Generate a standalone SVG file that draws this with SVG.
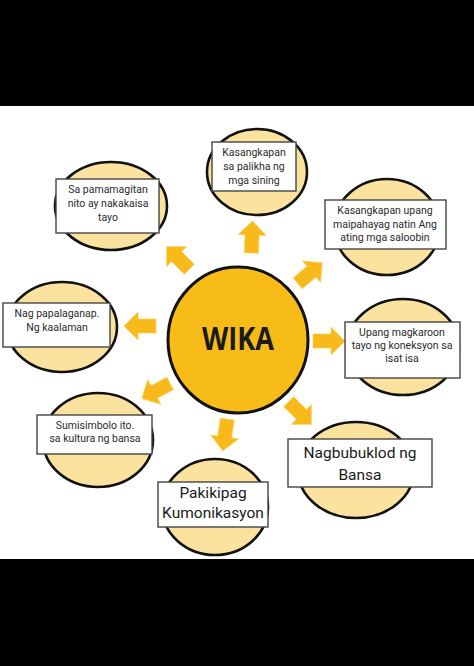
<svg xmlns="http://www.w3.org/2000/svg" width="474" height="666" viewBox="0 0 474 666">
<defs>
<style>
.bar{fill:#000}
.out{fill:#FBE39F;stroke:#111;stroke-width:2.6}
.box{fill:#fff;stroke:#444;stroke-width:1.4}
.t{font-family:Roboto,"Liberation Sans",sans-serif;font-size:10.5px;fill:#2a2a2a;text-anchor:middle}
.tb{font-family:Roboto,"Liberation Sans",sans-serif;font-size:15.5px;fill:#1a1a1a;text-anchor:middle}
.arr{fill:#F8BA1A;stroke:#FBD060;stroke-width:0.8}
</style>
<path id="ar" d="M-16,-7 H2 V-14 L16,0 L2,14 V7 H-16 Z"/>
</defs>
<rect x="0" y="0" width="474" height="666" fill="#fff"/>
<rect class="bar" x="0" y="0" width="474" height="106"/>
<rect class="bar" x="0" y="559" width="474" height="107"/>

<g id="connectors">
<use href="#ar" class="arr" transform="translate(252,237) rotate(-88)"/>
<use href="#ar" class="arr" transform="translate(310,273) rotate(-40)"/>
<use href="#ar" class="arr" transform="translate(329,341)"/>
<use href="#ar" class="arr" transform="translate(300,413) rotate(45)"/>
<use href="#ar" class="arr" transform="translate(225,435) rotate(98)"/>
<use href="#ar" class="arr" transform="translate(156,391) rotate(152)"/>
<use href="#ar" class="arr" transform="translate(140,326) rotate(180)"/>
<use href="#ar" class="arr" transform="translate(178,258) rotate(-135)"/>
</g>

<g id="wika">
<ellipse cx="238" cy="340" rx="70" ry="73" fill="#F8BC18" stroke="#111" stroke-width="3"/>
<text x="238" y="350" font-family="'Open Sans',Roboto,'Liberation Sans',sans-serif" font-size="32" font-weight="bold" fill="#1a1a1a" text-anchor="middle" textLength="72" lengthAdjust="spacingAndGlyphs">WIKA</text>
</g>

<g id="n-top">
<ellipse class="out" cx="257" cy="172" rx="50" ry="43"/>
<rect class="box" x="212" y="142" width="84" height="49"/>
<text class="t" x="254" y="156">Kasangkapan</text>
<text class="t" x="254" y="170">sa palikha ng</text>
<text class="t" x="254" y="184">mga sining</text>
</g>

<g id="n-topleft">
<ellipse class="out" cx="111" cy="206" rx="56" ry="44"/>
<rect class="box" x="56" y="179" width="103" height="54"/>
<text class="t" x="108" y="193">Sa pamamagitan</text>
<text class="t" x="108" y="207">nito ay nakakaisa</text>
<text class="t" x="108" y="221">tayo</text>
</g>

<g id="n-topright">
<ellipse class="out" cx="387" cy="227" rx="53" ry="48"/>
<rect class="box" x="325" y="200" width="121" height="49"/>
<text class="t" x="385" y="214">Kasangkapan upang</text>
<text class="t" x="385" y="228">maipahayag natin Ang</text>
<text class="t" x="385" y="241">ating mga saloobin</text>
</g>

<g id="n-left">
<ellipse class="out" cx="62" cy="327" rx="55" ry="45"/>
<rect class="box" x="3" y="303" width="107" height="44"/>
<text class="t" x="57" y="317">Nag papalaganap.</text>
<text class="t" x="57" y="331">Ng kaalaman</text>
</g>

<g id="n-right">
<ellipse class="out" cx="403" cy="347" rx="56" ry="48"/>
<rect class="box" x="345" y="322" width="115" height="56"/>
<text class="t" x="402" y="336">Upang magkaroon</text>
<text class="t" x="402" y="349">tayo ng koneksyon sa</text>
<text class="t" x="402" y="362">isat isa</text>
</g>

<g id="n-lowerleft">
<ellipse class="out" cx="98" cy="440" rx="55" ry="47"/>
<rect class="box" x="37" y="415" width="115" height="39"/>
<text class="t" x="95" y="429">Sumisimbolo ito.</text>
<text class="t" x="95" y="442">sa kultura ng bansa</text>
</g>

<g id="n-lowerright">
<ellipse class="out" cx="356" cy="470" rx="58" ry="48"/>
<rect class="box" x="288" y="439" width="144" height="48"/>
<text class="tb" x="360" y="458">Nagbubuklod ng</text>
<text class="tb" x="360" y="480">Bansa</text>
</g>

<g id="n-bottom">
<ellipse class="out" cx="215" cy="507" rx="53" ry="48"/>
<rect class="box" x="158" y="482" width="110" height="45"/>
<text class="tb" x="213" y="498">Pakikipag</text>
<text class="tb" x="213" y="518">Kumonikasyon</text>
</g>
</svg>
